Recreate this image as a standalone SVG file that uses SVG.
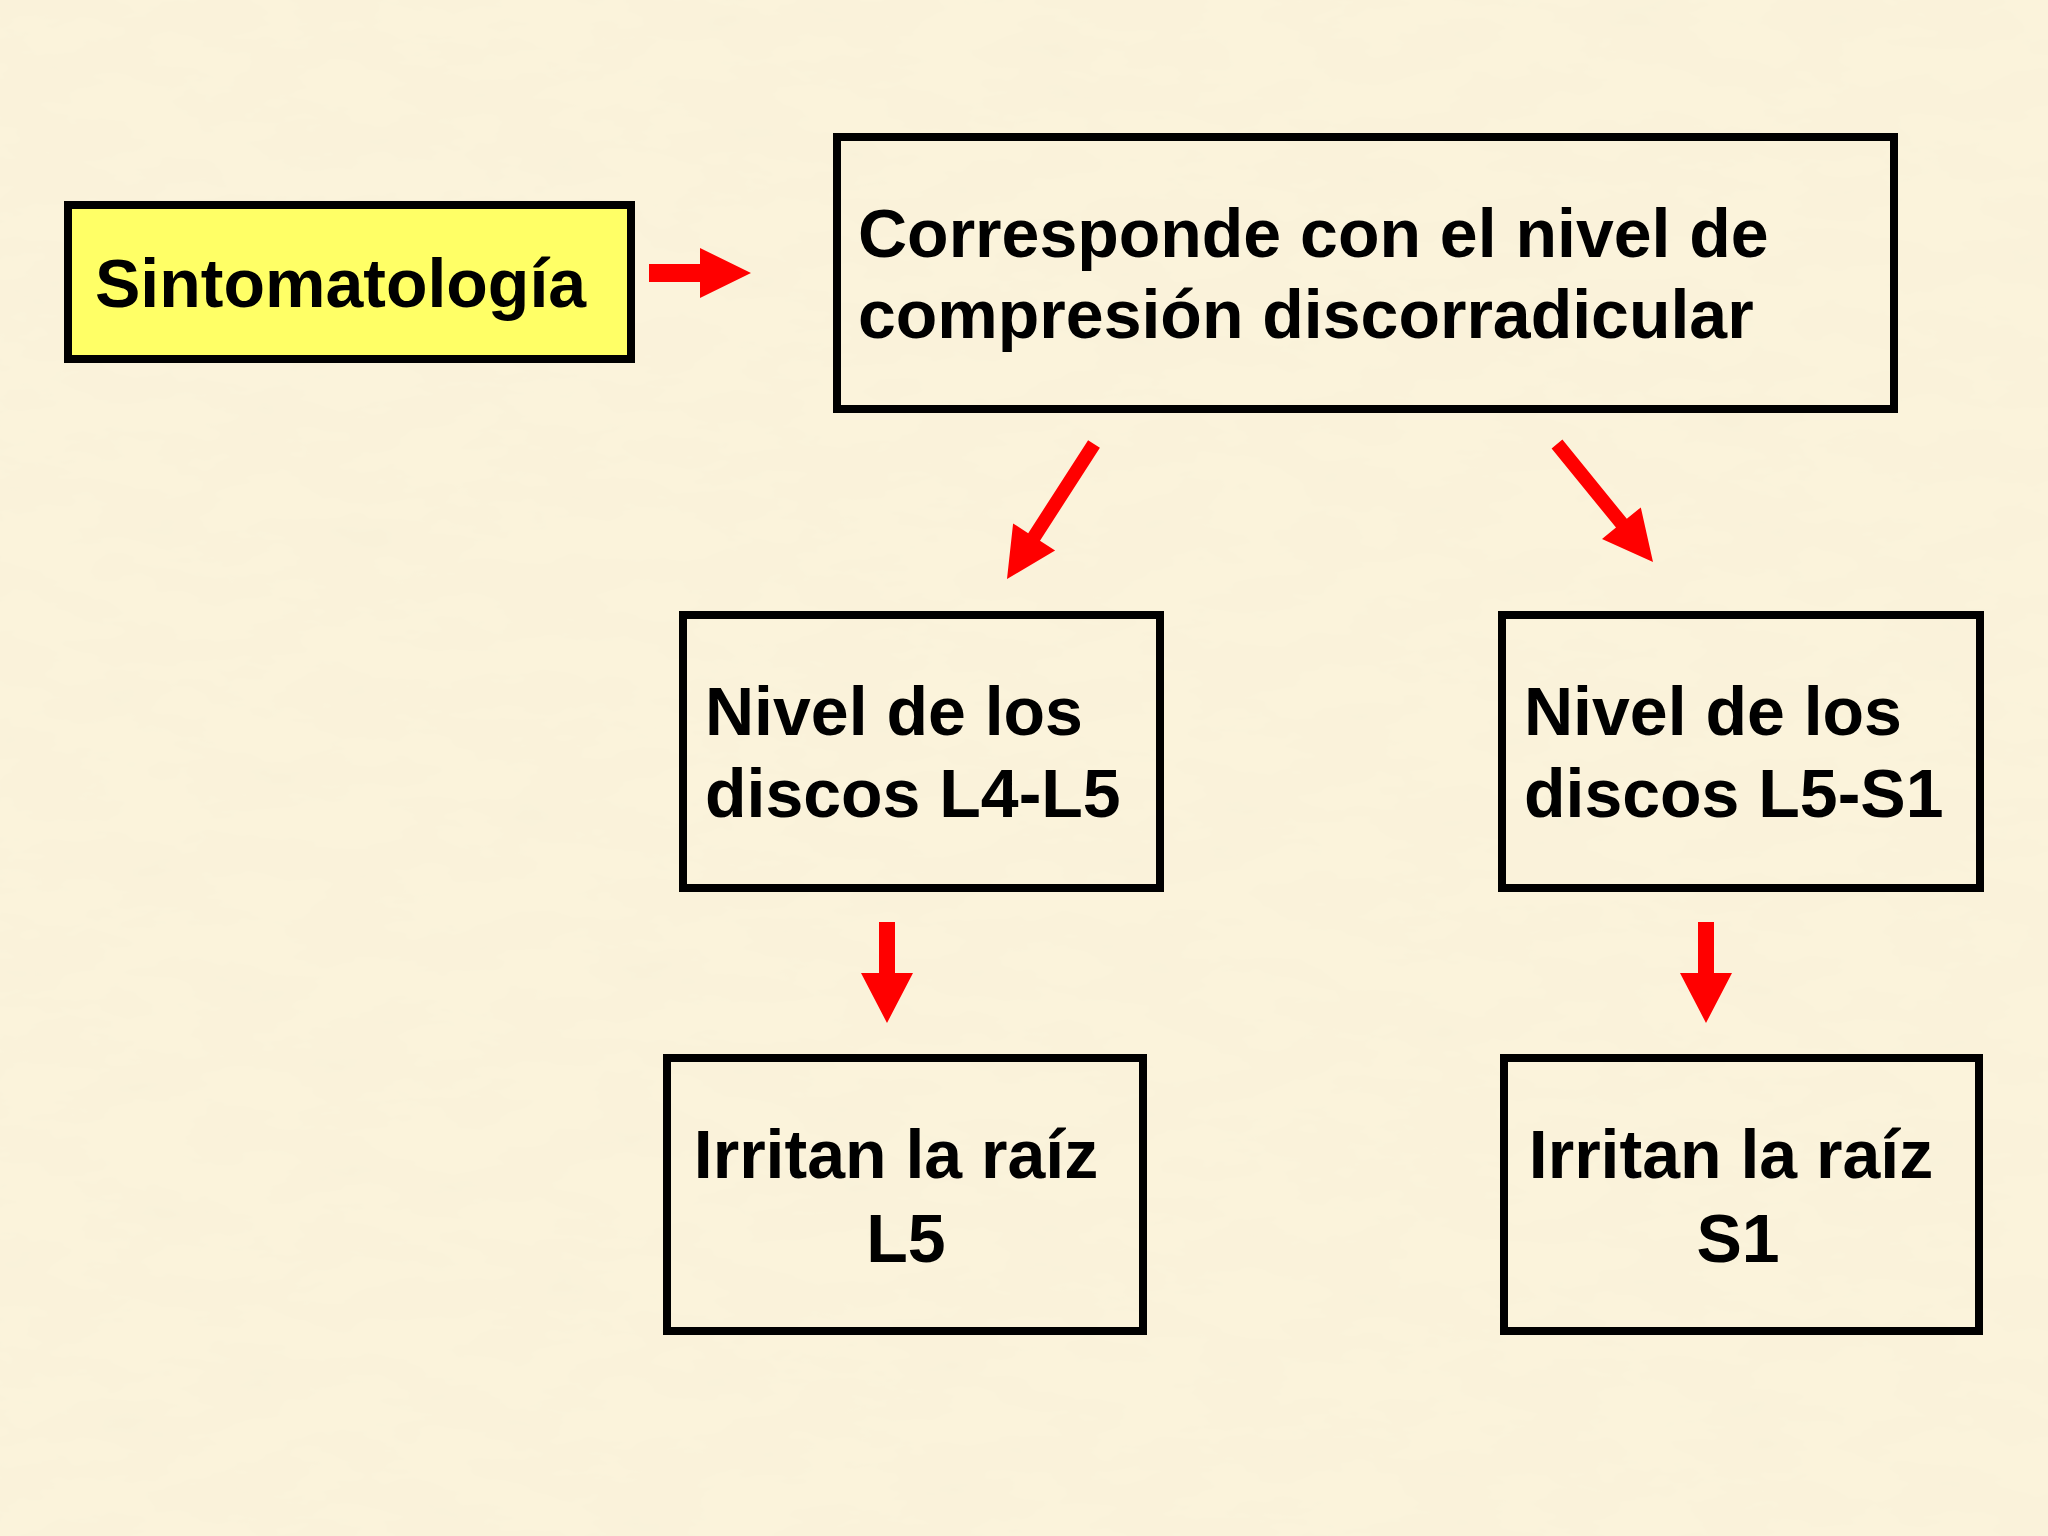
<svg xmlns="http://www.w3.org/2000/svg" width="2048" height="1536" viewBox="0 0 2048 1536">
  <defs>
    <filter id="paper" x="0" y="0" width="100%" height="100%">
      <feTurbulence type="fractalNoise" baseFrequency="0.01 0.025" numOctaves="4" seed="7"/>
      <feColorMatrix type="matrix" values="0 0 0 0 0.90  0 0 0 0 0.84  0 0 0 0 0.66  0.45 0 0 0 -0.15"/>
    </filter>
    <style>
      .box { fill: none; stroke: #000000; stroke-width: 8; }
      .yellow { fill: #FFFF66; stroke: #000000; stroke-width: 8; }
      .lbl { font-family: "Liberation Sans", Arial, sans-serif; font-weight: bold; font-size: 68px; fill: #000000; }
      .mid { text-anchor: middle; }
      .arrow { fill: #FF0000; stroke: none; }
    </style>
  </defs>
  <rect x="0" y="0" width="2048" height="1536" fill="#FBF3DB"/>
  <rect x="0" y="0" width="2048" height="1536" filter="url(#paper)"/>

  <g id="connectors">
    <polygon class="arrow" points="649,264 700,264 700,248 751,273 700,298 700,282 649,282"/>
    <polygon class="arrow" points="1088.1,440.2 1099.9,447.8 1040.0,540.7 1055.1,550.5 1007,579 1013.1,523.4 1028.2,533.2"/>
    <polygon class="arrow" points="1562.4,439.6 1626.8,518.8 1640.8,507.4 1653,562 1602.0,539.0 1616.0,527.6 1551.6,448.4"/>
    <polygon class="arrow" points="879,922 895,922 895,973 913,973 887,1023 861,973 879,973"/>
    <polygon class="arrow" points="1698,922 1714,922 1714,973 1732,973 1706,1023 1680,973 1698,973"/>
  </g>

  <g id="node-sintomatologia">
    <rect class="yellow" x="68" y="205" width="563" height="154"/>
    <text class="lbl" x="95" y="307">Sintomatología</text>
  </g>

  <g id="node-corresponde">
    <rect class="box" x="837" y="137" width="1057" height="272"/>
    <text class="lbl" x="858" y="257">Corresponde con el nivel de</text>
    <text class="lbl" x="858" y="338">compresión discorradicular</text>
  </g>

  <g id="node-l4l5">
    <rect class="box" x="683" y="615" width="477" height="273"/>
    <text class="lbl" x="705" y="735">Nivel de los</text>
    <text class="lbl" x="705" y="817">discos L4-L5</text>
  </g>

  <g id="node-l5s1">
    <rect class="box" x="1502" y="615" width="478" height="273"/>
    <text class="lbl" x="1524" y="735">Nivel de los</text>
    <text class="lbl" x="1524" y="817">discos L5-S1</text>
  </g>

  <g id="node-raiz-l5">
    <rect class="box" x="667" y="1058" width="476" height="273"/>
    <text class="lbl mid" x="896" y="1178">Irritan la raíz</text>
    <text class="lbl mid" x="906" y="1262">L5</text>
  </g>

  <g id="node-raiz-s1">
    <rect class="box" x="1504" y="1058" width="475" height="273"/>
    <text class="lbl mid" x="1731" y="1178">Irritan la raíz</text>
    <text class="lbl mid" x="1738" y="1262">S1</text>
  </g>
</svg>
